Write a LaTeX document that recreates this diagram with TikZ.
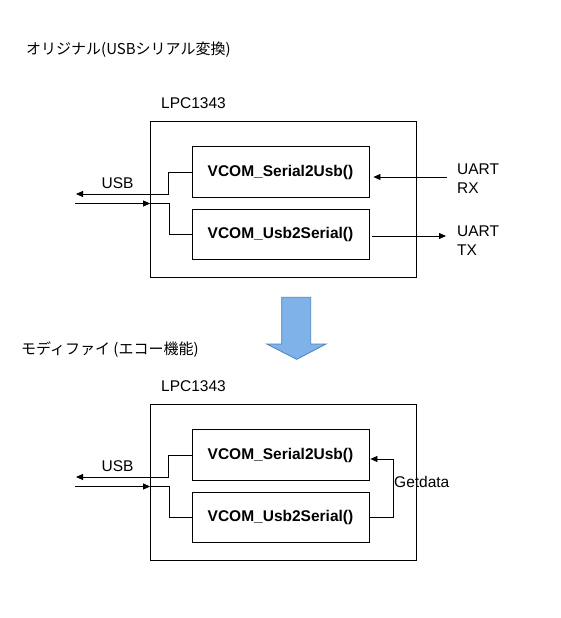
\documentclass[tikz,border=0pt]{standalone}
\usepackage{fontspec}
\setmainfont{Liberation Sans}
\newfontfamily\jp{Noto Sans CJK JP}
\usetikzlibrary{arrows.meta}
\begin{document}
\begin{tikzpicture}[x=1pt,y=-1pt,
  lbl/.style={inner sep=0pt,font=\fontsize{15.5}{19}\selectfont},
  jplbl/.style={inner sep=0pt,anchor=west,font=\fontsize{15}{18}\selectfont\jp},
  outerbox/.style={draw,line width=0.8pt,minimum width=265.5pt,minimum height=156.5pt,inner sep=0pt},
  funcbox/.style={draw,line width=0.8pt,minimum width=177pt,minimum height=50.5pt,inner sep=0pt,font=\fontsize{15.5}{19}\selectfont\bfseries},
  conn/.style={line width=0.8pt},
  arr/.style={line width=0.8pt,-{Triangle[length=7pt,width=6pt]}}]
\useasboundingbox (0,0) rectangle (561,618);
\fill[white] (0,0) rectangle (561,618);
% titles
\node[jplbl] (t1) at (26,50) {オリジナル(USBシリアル変換)};
\node[jplbl] (t2) at (21,350) {モディファイ (エコー機能)};
% ---------- top block ----------
\node[outerbox] (outer1) at (283.25,199.25) {};
\node[lbl,anchor=west] (lpc1) at (161,103.5) {LPC1343};
\node[funcbox] (s2u1) at (280.5,172) {VCOM\_Serial2Usb()};
\node[funcbox] (u2s1) at (280.5,234.5) {VCOM\_Usb2Serial()};
\node[lbl] (usb1) at (117.5,183) {USB};
\coordinate (usbout1) at (76,194);
\coordinate (usbin1) at (75,203.5);
\draw[arr] (s2u1.west) -- ++(-23,0) |- (usbout1);
\draw[arr] (usbin1) -- (outer1.west |- usbin1);
\draw[conn] (outer1.west |- usbin1) -- (169,203.5) |- (u2s1.west);
\coordinate (rx1) at (447,177);
\coordinate (tx1) at (446,236);
\draw[arr] (rx1) -- ([xshift=4pt]s2u1.east |- rx1);
\draw[arr] ([xshift=3pt]u2s1.east |- tx1) -- (tx1);
\node[lbl,anchor=west,align=left] (rx1l) at (457,178.5) {UART\\RX};
\node[lbl,anchor=west,align=left] (tx1l) at (457,240.5) {UART\\TX};
% ---------- block arrow ----------
\filldraw[fill={rgb,255:red,126;green,178;blue,232},draw={rgb,255:red,79;green,129;blue,189},line width=0.8pt]
  (281.7,297.3) -- (310.7,297.3) -- (310.7,344) -- (326,344) -- (296.7,359.3) -- (266.7,344) -- (281.7,344) -- cycle;
% ---------- bottom block ----------
\node[outerbox] (outer2) at (283.25,482.25) {};
\node[lbl,anchor=west] (lpc2) at (161,386.5) {LPC1343};
\node[funcbox] (s2u2) at (280.5,455) {VCOM\_Serial2Usb()};
\node[funcbox] (u2s2) at (280.5,517.5) {VCOM\_Usb2Serial()};
\node[lbl] (usb2) at (117.5,466) {USB};
\coordinate (usbout2) at (76,477);
\coordinate (usbin2) at (75,486.5);
\draw[arr] (s2u2.west) -- ++(-23,0) |- (usbout2);
\draw[arr] (usbin2) -- (outer2.west |- usbin2);
\draw[conn] (outer2.west |- usbin2) -- (169,486.5) |- (u2s2.west);
\coordinate (gd) at (393,459);
\draw[arr] (u2s2.east) -| (gd) -- ([xshift=1pt]s2u2.east |- gd);
\node[lbl,anchor=west] (gdl) at (394,482) {Getdata};
\end{tikzpicture}
\end{document}
